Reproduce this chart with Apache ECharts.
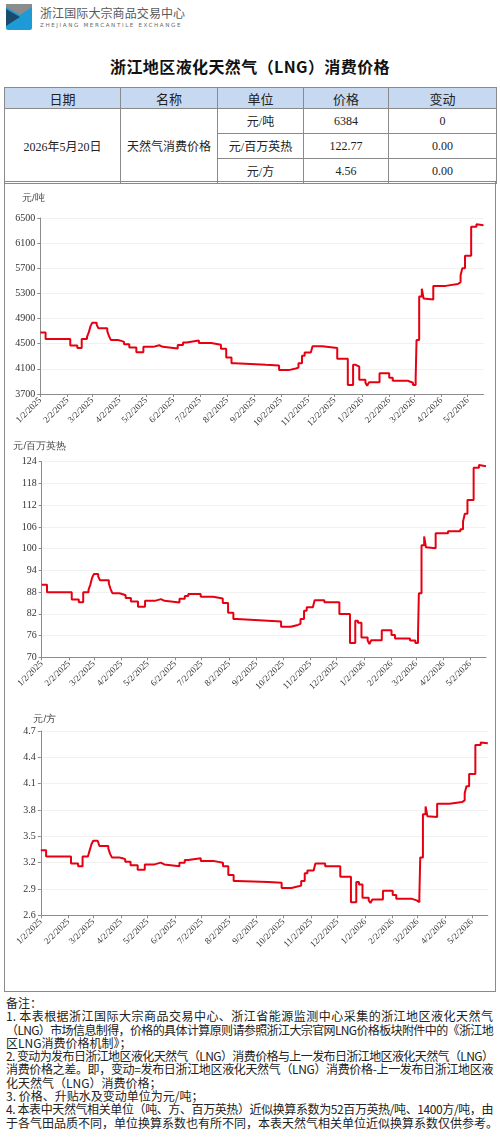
<!DOCTYPE html>
<html>
<head>
<meta charset="utf-8">
<script src="https://cdn.jsdelivr.net/npm/echarts@6/dist/echarts.min.js"></script>
<style>
  html, body { margin: 0; padding: 0; background: #fff; }
  body { width: 500px; height: 1145px; position: relative; overflow: hidden; font-family: "Noto Sans CJK SC", sans-serif; color: #222; }
  .logo { position: absolute; left: 6px; top: 4px; }
  .brand { position: absolute; left: 40px; top: 4px; font-size: 12px; color: #5a5a5a; letter-spacing: 0.1px; }
  .brand-en { position: absolute; left: 40px; top: 22px; font-size: 5.6px; color: #6a6a6a; letter-spacing: 1.6px; font-family: "DejaVu Sans", sans-serif; }
  .title { position: absolute; left: 0; width: 500px; top: 54px; text-align: center; font-size: 16px; font-weight: bold; letter-spacing: 0.4px; color: #111; }
  table.price { position: absolute; left: 4px; top: 87px; width: 492px; border-collapse: collapse; table-layout: fixed; font-family: "Liberation Serif", "Noto Sans CJK SC", serif; font-size: 12px; color: #222; }
  table.price td, table.price th { border: 1px solid #8a8a8a; text-align: center; padding: 0; }
  table.price th { background: #c6d9f1; font-weight: normal; font-size: 13px; height: 20px; font-family: "Noto Sans CJK SC", sans-serif; }
  table.price td { height: 24px; }
  .box { position: absolute; left: 4px; top: 181px; width: 490px; height: 809px; border: 1px solid #8a8a8a; }
  #chart { position: absolute; left: 5px; top: 183px; width: 490px; height: 808px; }
  .notes { position: absolute; left: 6px; top: 996px; width: 487px; font-size: 12px; line-height: 13.3px; color: #222; }
  .notes div { white-space: nowrap; }
  .notes .fit { text-align: justify; text-align-last: justify; }
</style>
</head>
<body>
<svg class="logo" width="26" height="26" viewBox="0 0 26 26">
  <rect x="0" y="0" width="26" height="26" rx="2" fill="#1e9bd7"/>
  <polygon points="0,0 26,0 26,3 14,11 0,3" fill="#8c8c8c"/>
  <polygon points="0,5 14,13 0,22" fill="#1b4a6b"/>
</svg>
<div class="brand">浙江国际大宗商品交易中心</div>
<div class="brand-en">ZHEJIANG MERCANTILE EXCHANGE</div>
<div class="title">浙江地区液化天然气（LNG）消费价格</div>
<table class="price" id="priceTable">
  <colgroup><col style="width:116px"><col style="width:97px"><col style="width:86px"><col style="width:85px"><col style="width:108px"></colgroup>
</table>
<div class="box"></div>
<div id="chart"></div>
<div class="notes">
  <div>备注：</div>
  <div class="fit">1. 本表根据浙江国际大宗商品交易中心、浙江省能源监测中心采集的浙江地区液化天然气</div>
  <div class="fit">（LNG）市场信息制得，价格的具体计算原则请参照浙江大宗官网LNG价格板块附件中的《浙江地</div>
  <div>区LNG消费价格机制》；</div>
  <div class="fit">2. 变动为发布日浙江地区液化天然气（LNG）消费价格与上一发布日浙江地区液化天然气（LNG）</div>
  <div class="fit">消费价格之差。即，变动=发布日浙江地区液化天然气（LNG）消费价格-上一发布日浙江地区液</div>
  <div>化天然气（LNG）消费价格；</div>
  <div>3. 价格、升贴水及变动单位为元/吨；</div>
  <div class="fit">4. 本表中天然气相关单位（吨、方、百万英热）近似换算系数为52百万英热/吨、1400方/吨，由</div>
  <div>于各气田品质不同，单位换算系数也有所不同，本表天然气相关单位近似换算系数仅供参考。</div>
</div>
<script>
// 表格数据
const tableHead = ['日期', '名称', '单位', '价格', '变动']
const tableDate = '2026年5月20日'
const tableName = '天然气消费价格'
const tableUnits = ['元/吨', '元/百万英热', '元/方']
const tablePrices = ['6384', '122.77', '4.56']
const tableChanges = ['0', '0.00', '0.00']

// 价格变动日期（阶梯线）
const changeDates = [
  '2025-01-02', '2025-01-08', '2025-02-05', '2025-02-13', '2025-02-18', '2025-02-24', '2025-02-26', '2025-02-28',
  '2025-03-02', '2025-03-07', '2025-03-09', '2025-03-19', '2025-03-21', '2025-03-23', '2025-03-31', '2025-04-04',
  '2025-04-07', '2025-04-13', '2025-04-21', '2025-04-29', '2025-05-10', '2025-05-17', '2025-05-21', '2025-06-07',
  '2025-06-13', '2025-06-17', '2025-07-01', '2025-07-15', '2025-07-26', '2025-08-01', '2025-08-07', '2025-08-11',
  '2025-09-15', '2025-09-30', '2025-10-11', '2025-10-19', '2025-10-22', '2025-10-26', '2025-10-29', '2025-11-05',
  '2025-11-07', '2025-11-18', '2025-12-05', '2025-12-17', '2025-12-23', '2025-12-26', '2025-12-30', '2026-01-06',
  '2026-01-08', '2026-01-10', '2026-01-22', '2026-02-02', '2026-02-06', '2026-02-23', '2026-03-01', '2026-03-04',
  '2026-03-05', '2026-03-08', '2026-03-11', '2026-03-13', '2026-03-15', '2026-03-24', '2026-04-07', '2026-04-21',
  '2026-04-24', '2026-04-26', '2026-04-29', '2026-05-06', '2026-05-12', '2026-05-14', '2026-05-20'
]
// 元/吨
const pricePerTon = [
  4680, 4575, 4470, 4430, 4575, 4610, 4680, 4780,
  4835, 4800, 4745, 4700, 4620, 4560, 4545, 4530,
  4490, 4440, 4365, 4450, 4475, 4450, 4425, 4480,
  4520, 4550, 4510, 4485, 4420, 4280, 4190, 4165,
  4155, 4080, 4105, 4120, 4190, 4310, 4360, 4375,
  4460, 4430, 4260, 3845, 4165, 4135, 3925, 3880,
  3830, 3885, 4030, 3960, 3910, 3880, 3845, 3950,
  4560, 5250, 5375, 5220, 5205, 5420, 5450, 5480,
  5590, 5700, 5900, 6360, 6400, 6384, 6384
]
// 元/百万英热
const pricePerMMBtu = [
  90.00, 87.98, 85.96, 85.19, 87.98, 88.65, 90.00, 91.92,
  92.98, 92.31, 91.25, 90.38, 88.85, 87.69, 87.40, 87.12,
  86.35, 85.38, 83.94, 85.58, 86.06, 85.58, 85.10, 86.15,
  86.92, 87.50, 86.73, 86.25, 85.00, 82.31, 80.58, 80.10,
  79.90, 78.46, 78.94, 79.23, 80.58, 82.88, 83.85, 84.13,
  85.77, 85.19, 81.92, 73.94, 80.10, 79.52, 75.48, 74.62,
  73.65, 74.71, 77.50, 76.15, 75.19, 74.62, 73.94, 75.96,
  87.69, 100.96, 103.37, 100.38, 100.10, 104.23, 104.81, 105.38,
  107.50, 109.62, 113.46, 122.31, 123.08, 122.77, 122.77
]
// 元/方
const pricePerCubic = [
  3.34, 3.27, 3.19, 3.16, 3.27, 3.29, 3.34, 3.41,
  3.45, 3.43, 3.39, 3.36, 3.30, 3.26, 3.25, 3.24,
  3.21, 3.17, 3.12, 3.18, 3.20, 3.18, 3.16, 3.20,
  3.23, 3.25, 3.22, 3.20, 3.16, 3.06, 2.99, 2.98,
  2.97, 2.91, 2.93, 2.94, 2.99, 3.08, 3.11, 3.13,
  3.19, 3.16, 3.04, 2.75, 2.98, 2.95, 2.80, 2.77,
  2.74, 2.78, 2.88, 2.83, 2.79, 2.77, 2.75, 2.82,
  3.26, 3.75, 3.84, 3.73, 3.72, 3.87, 3.89, 3.91,
  3.99, 4.07, 4.21, 4.54, 4.57, 4.56, 4.56
]
// 横轴刻度（每月2日）
const monthTicks = [
  '2025-01-02', '2025-02-02', '2025-03-02', '2025-04-02', '2025-05-02', '2025-06-02', '2025-07-02', '2025-08-02',
  '2025-09-02', '2025-10-02', '2025-11-02', '2025-12-02', '2026-01-02', '2026-02-02', '2026-03-02', '2026-04-02',
  '2026-05-02'
]
const xStart = '2025-01-02'
const xEnd = '2026-05-20'

// 表格
const table = document.getElementById('priceTable')
let html = '<tr>' + tableHead.map((h) => `<th>${h}</th>`).join('') + '</tr>'
tableUnits.forEach((u, i) => {
  html += '<tr>'
  if (i === 0) {
    html += `<td rowspan="3">${tableDate}</td><td rowspan="3">${tableName}</td>`
  }
  html += `<td>${u}</td><td>${tablePrices[i]}</td><td>${tableChanges[i]}</td></tr>`
})
table.insertAdjacentHTML('beforeend', html)

// 备注文字收紧
document.querySelectorAll('.notes .fit').forEach((el) => {
  let ls = 0
  while (el.scrollWidth > el.clientWidth && ls > -2) {
    ls -= 0.1
    el.style.letterSpacing = ls + 'px'
  }
})

const serif = 'Liberation Serif'
const red = '#e60012'
const axisGray = '#8c8c8c'

// 日期字符串 -> 时间戳（UTC）
function toTime(s) {
  const p = s.split('-')
  return Date.UTC(+p[0], +p[1] - 1, +p[2])
}
function fmtDate(v) {
  const d = new Date(v)
  return (d.getUTCMonth() + 1) + '/' + d.getUTCDate() + '/' + d.getUTCFullYear()
}

const tickValues = monthTicks.map(toTime)

function makeXAxis(idx) {
  return {
    type: 'value',
    gridIndex: idx,
    min: toTime(xStart),
    max: toTime(xEnd),
    axisLine: { lineStyle: { color: axisGray, width: 1 } },
    axisTick: { show: true, length: 3, customValues: tickValues, lineStyle: { color: axisGray } },
    axisLabel: {
      customValues: tickValues,
      rotate: 45,
      margin: 5,
      fontSize: 9,
      fontFamily: serif,
      color: '#333',
      formatter: fmtDate,
    },
    splitLine: { show: false },
  }
}

function makeYAxis(idx, min, max, interval, digits, name, nameGap, namePad) {
  return {
    type: 'value',
    gridIndex: idx,
    min: min,
    max: max,
    interval: interval,
    name: name,
    nameLocation: 'end',
    nameGap: nameGap,
    nameTextStyle: { fontSize: 9.5, color: '#444', align: 'center', verticalAlign: 'middle', padding: namePad },
    axisLine: { show: true, lineStyle: { color: axisGray, width: 1 } },
    axisTick: { show: true, length: 3, lineStyle: { color: axisGray } },
    axisLabel: {
      fontSize: 10,
      fontFamily: serif,
      color: '#333',
      margin: 5,
      formatter: (v) => v.toFixed(digits),
    },
    splitLine: { show: true, lineStyle: { color: '#f1f1f1' } },
  }
}

function makeSeries(idx, values) {
  return {
    type: 'line',
    xAxisIndex: idx,
    yAxisIndex: idx,
    step: 'end',
    showSymbol: false,
    data: changeDates.map((d, i) => [toTime(d), values[i]]),
    lineStyle: { color: red, width: 2 },
    itemStyle: { color: red },
  }
}

const chart = echarts.init(document.getElementById('chart'))
chart.setOption({
  animation: false,
  grid: [
    { left: 35.3, top: 35, width: 443.2, height: 176 },
    { left: 36.7, top: 278.7, width: 444.3, height: 195.6 },
    { left: 35.8, top: 548, width: 447, height: 184.3 },
  ],
  xAxis: [makeXAxis(0), makeXAxis(1), makeXAxis(2)],
  yAxis: [
    makeYAxis(0, 3700, 6500, 400, 0, '元/吨', 20, [0, 14, 0, 0]),
    makeYAxis(1, 70, 124, 6, 0, '元/百万英热', 15, [0, 4, 0, 0]),
    makeYAxis(2, 2.6, 4.7, 0.3, 1, '元/方', 12, [0, 0, 0, 8]),
  ],
  series: [makeSeries(0, pricePerTon), makeSeries(1, pricePerMMBtu), makeSeries(2, pricePerCubic)],
})
</script>
</body>
</html>
